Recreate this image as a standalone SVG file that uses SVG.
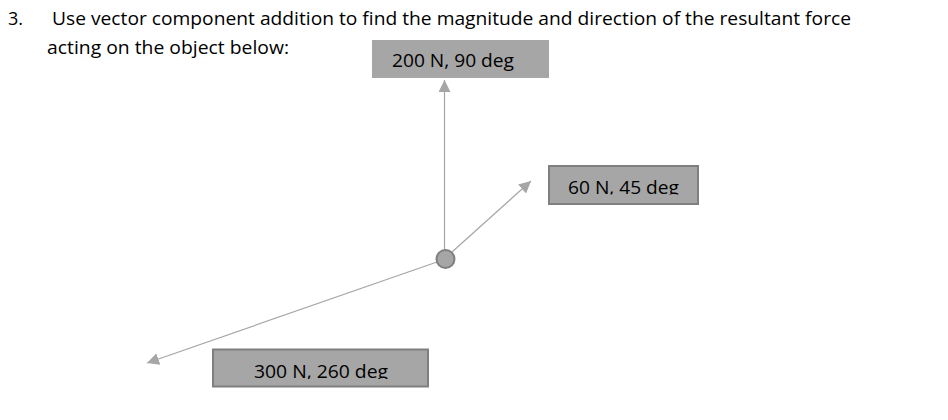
<svg xmlns="http://www.w3.org/2000/svg" width="948" height="420" viewBox="0 0 948 420">
<style>
.t{font-family:"Open Sans","Liberation Sans",sans-serif;fill:#000}
.box{fill:#a6a6a6}
.bd{stroke:#7f7f7f;stroke-width:2}
.c{stroke:#a6a6a6;stroke-width:1.2;fill:none}
</style>
<defs>
<marker id="ah" markerUnits="userSpaceOnUse" markerWidth="14" markerHeight="12" refX="12" refY="6" orient="auto">
<path d="M0,0 L12,6 L0,12 Z" fill="#a6a6a6"/>
</marker>
<clipPath id="c2"><rect x="548" y="165" width="151" height="29.5"/></clipPath>
<clipPath id="c3"><rect x="212" y="349" width="216" height="30"/></clipPath>
</defs>
<rect width="948" height="420" fill="#fff"/>
<g id="title">
<text class="t" x="8" y="25" font-size="18">3.</text>
<text class="t" x="52" y="25" font-size="18" textLength="799" lengthAdjust="spacingAndGlyphs">Use vector component addition to find the magnitude and direction of the resultant force</text>
<text class="t" x="47" y="54" font-size="18" textLength="242" lengthAdjust="spacingAndGlyphs">acting on the object below:</text>
</g>
<g id="connectors">
<line class="c" x1="444.5" y1="250" x2="444.5" y2="80" marker-end="url(#ah)"/>
<line class="c" x1="452" y1="252" x2="531" y2="181" marker-end="url(#ah)"/>
<line class="c" x1="437" y1="262" x2="147" y2="363" marker-end="url(#ah)"/>
</g>
<g id="object">
<circle cx="445.5" cy="259" r="9" fill="#a6a6a6" stroke="#7f7f7f" stroke-width="2"/>
</g>
<g id="f200">
<rect class="box" x="372" y="40" width="177" height="38"/>
<text class="t" x="392" y="67" font-size="18" textLength="122" lengthAdjust="spacingAndGlyphs">200 N, 90 deg</text>
</g>
<g id="f60">
<rect class="box bd" x="549" y="166" width="149" height="38"/>
<text class="t" x="568" y="194" font-size="18" textLength="111" lengthAdjust="spacingAndGlyphs" clip-path="url(#c2)">60 N, 45 deg</text>
</g>
<g id="f300">
<rect class="box bd" x="213" y="349.5" width="215" height="37"/>
<text class="t" x="254" y="378" font-size="18" textLength="134" lengthAdjust="spacingAndGlyphs" clip-path="url(#c3)">300 N, 260 deg</text>
</g>
</svg>
